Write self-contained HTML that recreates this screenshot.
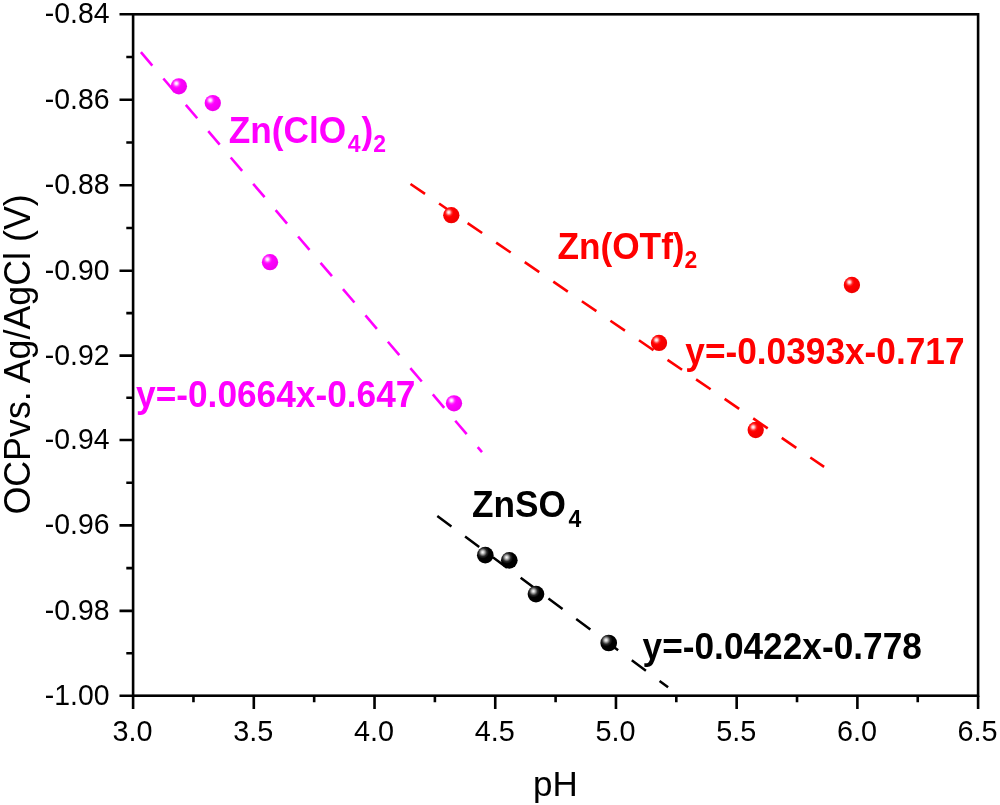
<!DOCTYPE html>
<html lang="en"><head><meta charset="utf-8"><title>OCP vs pH</title>
<style>
html,body{margin:0;padding:0;background:#fff;}
body{width:1000px;height:805px;overflow:hidden;}
svg{display:block;}
text{font-family:"Liberation Sans",sans-serif;}
.tk{font-size:28.4px;fill:#000;}
.ax{font-size:35px;fill:#000;}
.an{font-size:35.25px;font-weight:bold;}
.sub{font-size:23px;}
</style></head><body>
<svg style="filter:blur(0.3px)" width="1000" height="805" viewBox="0 0 1000 805">
<defs>
<radialGradient id="gm" cx="0.36" cy="0.34" r="0.62" fx="0.34" fy="0.32">
<stop offset="0" stop-color="#ffffff"/><stop offset="0.12" stop-color="#ffd8ff"/><stop offset="0.32" stop-color="#ff30ff"/><stop offset="0.46" stop-color="#ff00ff"/><stop offset="1" stop-color="#f000f0"/>
</radialGradient>
<radialGradient id="gr" cx="0.36" cy="0.34" r="0.62" fx="0.34" fy="0.32">
<stop offset="0" stop-color="#ffffff"/><stop offset="0.12" stop-color="#ffd0d0"/><stop offset="0.32" stop-color="#ff2828"/><stop offset="0.46" stop-color="#ff0000"/><stop offset="1" stop-color="#f00000"/>
</radialGradient>
<radialGradient id="gk" cx="0.36" cy="0.34" r="0.62" fx="0.34" fy="0.32">
<stop offset="0" stop-color="#ffffff"/><stop offset="0.14" stop-color="#c8c8c8"/><stop offset="0.40" stop-color="#282828"/><stop offset="0.6" stop-color="#000000"/><stop offset="1" stop-color="#000000"/>
</radialGradient>
</defs>
<rect width="1000" height="805" fill="#fff"/>
<rect x="133.1" y="14.3" width="845.0" height="681.4" fill="none" stroke="#000" stroke-width="2.6"/>
<path d="M119.5 14.30H133.1M126.3 57.05H133.1M119.5 99.80H133.1M126.3 142.55H133.1M119.5 185.30H133.1M126.3 228.00H133.1M119.5 270.70H133.1M126.3 313.15H133.1M119.5 355.60H133.1M126.3 397.80H133.1M119.5 440.00H133.1M126.3 482.70H133.1M119.5 525.40H133.1M126.3 568.15H133.1M119.5 610.90H133.1M126.3 653.30H133.1M119.5 695.70H133.1M133.10 695.7V708.9M193.46 695.7V702.3M253.81 695.7V708.9M314.17 695.7V702.3M374.53 695.7V708.9M434.89 695.7V702.3M495.24 695.7V708.9M555.60 695.7V702.3M615.96 695.7V708.9M676.31 695.7V702.3M736.67 695.7V708.9M797.03 695.7V702.3M857.39 695.7V708.9M917.74 695.7V702.3M978.10 695.7V708.9" stroke="#000" stroke-width="2.6" fill="none"/>
<g class="tk" text-anchor="end">
<text transform="translate(109.6 23.3) scale(1 1.042)">-0.84</text>
<text transform="translate(109.6 108.8) scale(1 1.042)">-0.86</text>
<text transform="translate(109.6 194.3) scale(1 1.042)">-0.88</text>
<text transform="translate(109.6 279.7) scale(1 1.042)">-0.90</text>
<text transform="translate(109.6 364.6) scale(1 1.042)">-0.92</text>
<text transform="translate(109.6 449.0) scale(1 1.042)">-0.94</text>
<text transform="translate(109.6 534.4) scale(1 1.042)">-0.96</text>
<text transform="translate(109.6 619.9) scale(1 1.042)">-0.98</text>
<text transform="translate(109.6 704.7) scale(1 1.042)">-1.00</text>
</g>
<g class="tk" style="font-size:28.8px" text-anchor="middle">
<text transform="translate(132.6 740.9) scale(1 1.042)">3.0</text>
<text transform="translate(253.3 740.9) scale(1 1.042)">3.5</text>
<text transform="translate(374.0 740.9) scale(1 1.042)">4.0</text>
<text transform="translate(494.7 740.9) scale(1 1.042)">4.5</text>
<text transform="translate(615.5 740.9) scale(1 1.042)">5.0</text>
<text transform="translate(736.2 740.9) scale(1 1.042)">5.5</text>
<text transform="translate(856.9 740.9) scale(1 1.042)">6.0</text>
<text transform="translate(977.6 740.9) scale(1 1.042)">6.5</text>
</g>
<text class="ax" style="font-size:35.8px" transform="translate(30.2 514.6) rotate(-90) scale(1 1.025)">OCPvs. Ag/AgCl (V)</text>
<text class="ax" transform="translate(533 795.8) scale(1 1.025)">pH</text>
<g fill="none" stroke-width="2.6" stroke-dasharray="17.6 17">
<path d="M140.9 52.2L482 452.1" stroke="#ff00ff"/>
<path d="M410.5 184L824.1 466.9" stroke="#ff0000"/>
<path d="M437.3 516L668.1 687.3" stroke="#000" stroke-width="2.5"/>
</g>
<g fill="url(#gm)"><circle cx="178.9" cy="86.3" r="8.15"/><circle cx="212.8" cy="103.1" r="8.15"/><circle cx="270" cy="262.2" r="8.15"/><circle cx="454" cy="403.3" r="8.15"/></g>
<g fill="url(#gr)"><circle cx="451.3" cy="215.2" r="8.15"/><circle cx="659" cy="342.9" r="8.15"/><circle cx="755.7" cy="430" r="8.15"/><circle cx="851.9" cy="285" r="8.15"/></g>
<g fill="url(#gk)"><circle cx="485.3" cy="555.2" r="8.35"/><circle cx="509.3" cy="560.3" r="8.35"/><circle cx="536" cy="594.1" r="8.35"/><circle cx="608.7" cy="643" r="8.35"/></g>
<text class="an" fill="#ff00ff" transform="translate(228.7 143.2) scale(1 1.025)">Zn(ClO<tspan class="sub" dy="8.7" dx="1.5">4</tspan><tspan dy="-8.7" dx="1">)</tspan><tspan class="sub" dy="8.7" dx="0">2</tspan></text>
<text class="an" fill="#ff0000" transform="translate(557.4 258.6) scale(1 1.025)">Zn(OTf)<tspan class="sub" dy="8.7" dx="0">2</tspan></text>
<text class="an" fill="#000" transform="translate(472 517) scale(1 1.025)">ZnSO<tspan class="sub" dy="10" dx="2.5">4</tspan></text>
<text class="an" fill="#ff00ff" transform="translate(136.1 407.3) scale(1 1.025)">y=-0.0664x-0.647</text>
<text class="an" fill="#ff0000" transform="translate(685.3 364.0) scale(1 1.025)">y=-0.0393x-0.717</text>
<text class="an" fill="#000" transform="translate(642.6 658.9) scale(1 1.025)">y=-0.0422x-0.778</text>
</svg>
</body></html>
